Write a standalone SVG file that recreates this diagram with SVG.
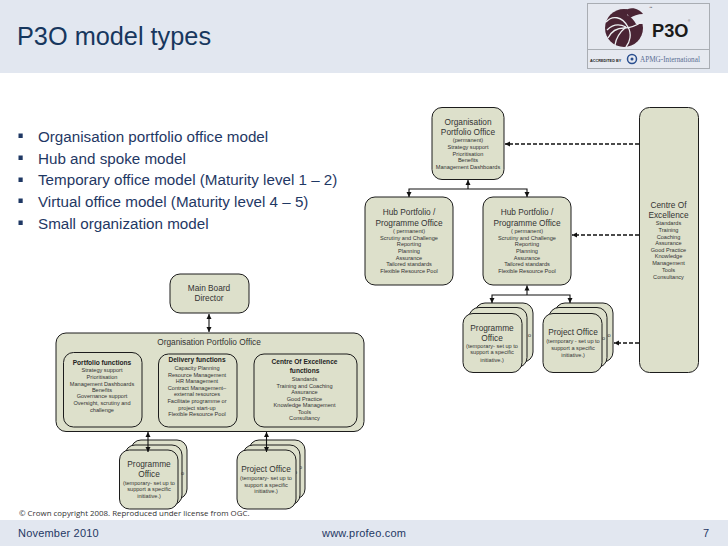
<svg xmlns="http://www.w3.org/2000/svg" width="728" height="546" viewBox="0 0 728 546">
<style>
text{font-family:"Liberation Sans",Arial,sans-serif;fill:#333}
.n{fill:#dde0cb;stroke:#1c1c1c;stroke-width:1}
.b{font-size:8.3px;text-anchor:middle}
.s{font-size:5.6px;text-anchor:middle}
.h{font-size:6.6px;font-weight:bold;text-anchor:middle;fill:#222}
.bl{font-size:15.2px;fill:#1f3864}
.f{font-size:11px;fill:#1f3864;letter-spacing:.2px}
.c{fill:none;stroke:#111;stroke-width:1.1}
.d{fill:none;stroke:#111;stroke-width:1.4;stroke-dasharray:4 2}
.band{fill:#e2e7f0}
.w{fill:none;stroke:#eef0f2;stroke-width:1.3}
</style>
<defs>
<marker id="a" markerUnits="userSpaceOnUse" markerWidth="6" markerHeight="6" refX="5" refY="3" orient="auto-start-reverse"><path d="M0 .5L5 3L0 5.5z" fill="#111"/></marker>
</defs>
<rect width="728" height="546" fill="#fff"/>
<rect class="band" width="728" height="73"/>
<rect class="band" y="520" width="728" height="26"/>
<text x="17" y="45" style="font-size:25.300px;fill:#17375e">P3O model types</text>
<g id="logo">
<rect x="587.500" y="3.500" width="122" height="65" fill="#e6e9f0" stroke="#a9adb3"/>
<line x1="588" y1="49.500" x2="709" y2="49.500" stroke="#a9adb3"/>
<circle cx="624" cy="28" r="19" fill="#4a2434"/>
<path d="M627 8L648 8L648 24L636 24C634 20 631 17 627 15z" fill="#e6e9f0"/>
<path d="M628 9C634 7 640 10 643 14C638 14 633 16 630 18C628 15 626 12 622 11z" fill="#4a2434"/>
<path class="w" d="M606 22C612 15 622 16 628 27C632 34 630 42 626 47"/>
<path class="w" d="M608 38C612 30 618 28 624 28C630 28 636 26 643 21"/>
<path class="w" d="M615 45C616 38 620 32 626 27"/>
<path class="w" d="M607 30C613 24 620 24 626 27"/>
<text x="652" y="37" style="font-size:18.200px;font-weight:bold;fill:#1a1a1a">P3O</text>
<text x="649" y="9" style="font-size:3.500px;fill:#333">™</text>
<text x="688" y="22" style="font-size:3px;fill:#555">®</text>
<text x="590" y="62" style="font-size:3.800px;font-weight:bold;fill:#222">ACCREDITED BY</text>
<circle cx="632" cy="59" r="4.500" fill="none" stroke="#2a4f8f" stroke-width="1.500"/>
<circle cx="632" cy="59" r="1.500" fill="#2a4f8f"/>
<text x="640" y="62" style="font-family:'Liberation Serif',serif;font-size:7.200px;fill:#5a6f94">APMG-International</text>
</g>
<g id="bullets">
<rect x="18.500" y="133.500" width="4.200" height="4.500" fill="#1f3864"/>
<rect x="18.500" y="155.500" width="4.200" height="4.500" fill="#1f3864"/>
<rect x="18.500" y="177.500" width="4.200" height="4.500" fill="#1f3864"/>
<rect x="18.500" y="198.500" width="4.200" height="4.500" fill="#1f3864"/>
<rect x="18.500" y="220.500" width="4.200" height="4.500" fill="#1f3864"/>
<text class="bl" x="38" y="142">Organisation portfolio office model</text>
<text class="bl" x="38" y="164">Hub and spoke model</text>
<text class="bl" x="38" y="185">Temporary office model (Maturity level 1 – 2)</text>
<text class="bl" x="38" y="207">Virtual office model (Maturity level 4 – 5)</text>
<text class="bl" x="38" y="229">Small organization model</text>
</g>

<g id="org-office"><rect class="n" x="432" y="107.500" width="72" height="72" rx="10"/>
<text class="b" x="468" y="125">Organisation</text><text class="b" x="468" y="135">Portfolio Office</text>
<text class="s" x="468" y="142">(permanent)</text><text class="s" x="468" y="149">Strategy support</text><text class="s" x="468" y="156">Prioritisation</text><text class="s" x="468" y="161.500">Benefits</text><text class="s" x="468" y="169">Management Dashboards</text></g>

<g id="hub-1"><rect class="n" x="365" y="197" width="88" height="88" rx="10"/>
<text class="b" x="409" y="215">Hub Portfolio /</text><text class="b" x="409" y="226">Programme Office</text>
<text class="s" x="409" y="233">( permanent)</text><text class="s" x="409" y="239.500">Scrutiny and Challenge</text><text class="s" x="409" y="246">Reporting</text><text class="s" x="409" y="253">Planning</text><text class="s" x="409" y="259.500">Assurance</text><text class="s" x="409" y="266">Tailored standards</text><text class="s" x="409" y="273">Flexible Resource Pool</text></g>

<g id="hub-2"><rect class="n" x="483" y="197" width="88" height="88" rx="10"/>
<text class="b" x="527" y="215">Hub Portfolio /</text><text class="b" x="527" y="226">Programme Office</text>
<text class="s" x="527" y="233">( permanent)</text><text class="s" x="527" y="239.500">Scrutiny and Challenge</text><text class="s" x="527" y="246">Reporting</text><text class="s" x="527" y="253">Planning</text><text class="s" x="527" y="259.500">Assurance</text><text class="s" x="527" y="266">Tailored standards</text><text class="s" x="527" y="273">Flexible Resource Pool</text></g>

<g id="coe-side"><rect class="n" x="639.500" y="107.500" width="59" height="265" rx="10"/>
<text class="b" x="668.500" y="208">Centre Of</text><text class="b" x="668.500" y="218">Excellence</text>
<text class="s" x="668.500" y="224.500">Standards</text><text class="s" x="668.500" y="231.500">Training</text><text class="s" x="668.500" y="239">Coaching</text><text class="s" x="668.500" y="245">Assurance</text><text class="s" x="668.500" y="252">Good Practice</text><text class="s" x="668.500" y="258">Knowledge</text><text class="s" x="668.500" y="265">Management</text><text class="s" x="668.500" y="272">Tools</text><text class="s" x="668.500" y="279">Consultancy</text></g>

<g id="programme-stack-right">
<rect class="n" x="475" y="303" width="58" height="59" rx="10"/><text class="s" x="529.500" y="337">o</text>
<rect class="n" x="469" y="307.500" width="58" height="60" rx="10"/>
<rect class="n" x="463" y="313.500" width="59" height="59" rx="10"/>
<text class="b" x="492" y="331">Programme</text><text class="b" x="492" y="341">Office</text>
<text class="s" x="492" y="347.500">(temporary- set up to</text><text class="s" x="492" y="354">support a specific</text><text class="s" x="492" y="362">initiative.)</text></g>

<g id="project-stack-right">
<rect class="n" x="555" y="303" width="58" height="59" rx="10"/><text class="s" x="609" y="337">o</text>
<rect class="n" x="549" y="307.500" width="58" height="60" rx="10"/><text class="s" x="603.500" y="340">o</text>
<rect class="n" x="543" y="313.500" width="59" height="59" rx="10"/>
<text class="b" x="573" y="335">Project Office</text>
<text class="s" x="573" y="343">(temporary - set up to</text><text class="s" x="573" y="350">support a specific</text><text class="s" x="573" y="356.500">initiative.)</text></g>

<g id="main-board"><rect class="n" x="170" y="274" width="79" height="39" rx="10"/>
<text class="b" x="209" y="291">Main Board</text><text class="b" x="209" y="301">Director</text></g>

<g id="org-office-large"><rect class="n" x="56" y="333" width="308" height="98.500" rx="10"/>
<text class="b" x="209" y="345">Organisation Portfolio Office</text></g>

<g id="portfolio-functions"><rect class="n" x="63.500" y="352.500" width="78.500" height="74.500" rx="10"/>
<text class="h" x="102" y="365">Portfolio functions</text>
<text class="s" x="102" y="372">Strategy support</text><text class="s" x="102" y="379">Prioritisation</text><text class="s" x="102" y="386">Management Dashboards</text><text class="s" x="102" y="391.500">Benefits</text><text class="s" x="102" y="398">Governance support</text><text class="s" x="102" y="405">Oversight, scrutiny and</text><text class="s" x="102" y="412">challenge</text></g>

<g id="delivery-functions"><rect class="n" x="158.500" y="354" width="78.500" height="73" rx="10"/>
<text class="h" x="197" y="362">Delivery functions</text>
<text class="s" x="197" y="370">Capacity Planning</text><text class="s" x="197" y="377">Resource Management</text><text class="s" x="197" y="383">HR Management</text><text class="s" x="197" y="389.500">Contract Management–</text><text class="s" x="197" y="396">external resources</text><text class="s" x="197" y="403">Facilitate programme or</text><text class="s" x="197" y="410">project start-up</text><text class="s" x="197" y="416">Flexible Resource Pool</text></g>

<g id="coe-functions"><rect class="n" x="254" y="354" width="103" height="73" rx="10"/>
<text class="h" x="304.500" y="364">Centre Of Excellence</text><text class="h" x="304.500" y="373">functions</text>
<text class="s" x="304.500" y="381">Standards</text><text class="s" x="304.500" y="388">Training and Coaching</text><text class="s" x="304.500" y="394">Assurance</text><text class="s" x="304.500" y="400.500">Good Practice</text><text class="s" x="304.500" y="407">Knowledge Management</text><text class="s" x="304.500" y="413.500">Tools</text><text class="s" x="304.500" y="420">Consultancy</text></g>

<g id="programme-stack-left">
<rect class="n" x="131" y="440" width="56" height="59" rx="10"/>
<rect class="n" x="125" y="445" width="57" height="60" rx="10"/><text class="s" x="182.500" y="475">o</text>
<rect class="n" x="119.500" y="450" width="58.500" height="59" rx="10"/>
<text class="b" x="149" y="467">Programme</text><text class="b" x="149" y="477">Office</text>
<text class="s" x="149" y="485">(temporary- set up to</text><text class="s" x="149" y="491">support a specific</text><text class="s" x="149" y="498">initiative.)</text></g>

<g id="project-stack-left">
<rect class="n" x="249" y="440" width="56" height="59" rx="10"/><text class="s" x="300.500" y="469">o</text>
<rect class="n" x="243" y="445" width="57" height="60" rx="10"/><text class="s" x="295.500" y="474">o</text>
<rect class="n" x="237" y="450" width="59" height="59" rx="10"/>
<text class="b" x="266" y="472">Project Office</text>
<text class="s" x="266" y="480">(temporary- set up to</text><text class="s" x="266" y="486.500">support a specific</text><text class="s" x="266" y="493">initiative.)</text></g>

<g id="connectors">
<path class="c" marker-start="url(#a)" d="M468 180V189"/>
<path class="c" marker-end="url(#a)" d="M468 189H409V197"/>
<path class="c" marker-end="url(#a)" d="M468 189H527V197"/>
<path class="c" marker-start="url(#a)" d="M527 285.500V295"/>
<path class="c" marker-end="url(#a)" d="M527 295H492V303"/>
<path class="c" marker-end="url(#a)" d="M527 295H570V303"/>
<path class="d" marker-end="url(#a)" d="M639 144H505"/>
<path class="d" marker-end="url(#a)" d="M639 235H572"/>
<path class="d" marker-end="url(#a)" d="M639 343H614"/>
<path class="c" marker-start="url(#a)" marker-end="url(#a)" d="M209 314V332"/>
<path class="c" marker-start="url(#a)" marker-end="url(#a)" d="M148 432V452"/>
<path class="c" marker-start="url(#a)" marker-end="url(#a)" d="M266.500 432V452"/>
</g>

<text x="19" y="516" style="font-family:'Open Sans',sans-serif;font-size:7.900px;fill:#333">© Crown copyright 2008. Reproduced under license from OGC.</text>
<text class="f" x="18" y="537">November 2010</text>
<text class="f" x="322" y="537">www.profeo.com</text>
<text class="f" x="703" y="537">7</text>
</svg>
